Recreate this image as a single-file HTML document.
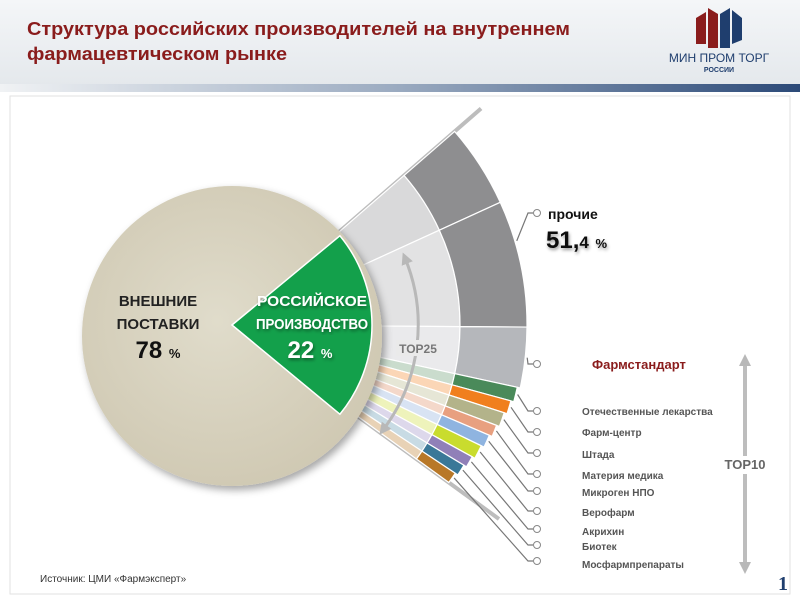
<!DOCTYPE html>
<html><head><meta charset="utf-8">
<style>
html,body{margin:0;padding:0;width:800px;height:600px;overflow:hidden;background:#fff;font-family:"Liberation Sans","DejaVu Sans",sans-serif;}
</style></head>
<body>
<svg id="chart" width="800" height="600" viewBox="0 0 800 600" xmlns="http://www.w3.org/2000/svg">
<defs>
<linearGradient id="hdr" x1="0" y1="0" x2="0" y2="1"><stop offset="0" stop-color="#f4f6f8"/><stop offset="1" stop-color="#e4e8ec"/></linearGradient>
<linearGradient id="bar" x1="0" y1="0" x2="1" y2="0"><stop offset="0" stop-color="#f0f2f4"/><stop offset="0.5" stop-color="#9aaac0"/><stop offset="1" stop-color="#2c4a78"/></linearGradient>
<radialGradient id="beige" cx="0.45" cy="0.45" r="0.6"><stop offset="0" stop-color="#e0dccb"/><stop offset="1" stop-color="#cfc8b2"/></radialGradient>
<filter id="sh" x="-20%" y="-20%" width="140%" height="140%"><feDropShadow dx="3" dy="4" stdDeviation="4" flood-opacity="0.35"/></filter>
<filter id="tsh"><feDropShadow dx="1" dy="2" stdDeviation="1.5" flood-opacity="0.4"/></filter>
<marker id="ah" markerUnits="userSpaceOnUse" markerWidth="12" markerHeight="12" refX="6" refY="6" orient="auto-start-reverse"><path d="M0,0 L12,6 L0,12 Z" fill="#b8b8b8"/></marker>
</defs>
<rect x="0" y="0" width="800" height="86" fill="url(#hdr)"/>
<rect x="0" y="84" width="800" height="8" fill="url(#bar)"/>
<rect x="10" y="96" width="780" height="498" fill="#fff" stroke="#e2e2e2"/>
<text x="27" y="35" font-size="18" font-weight="bold" fill="#8a1c1c" textLength="543" lengthAdjust="spacingAndGlyphs">Структура российских производителей на внутреннем</text>
<text x="27" y="60" font-size="18" font-weight="bold" fill="#8a1c1c" textLength="260" lengthAdjust="spacingAndGlyphs">фармацевтическом рынке</text>
<g>
<polygon points="696,18 706,12 706,44 696,44" fill="#8a1c1c"/>
<polygon points="708,8 718,14 718,48 708,48" fill="#8a1c1c"/>
<polygon points="720,14 730,8 730,48 720,48" fill="#1f3e6e"/>
<polygon points="732,10 742,18 742,40 732,44" fill="#1f3e6e"/>
<text x="719" y="62" font-size="12" text-anchor="middle" fill="#1f3e6e">МИН ПРОМ ТОРГ</text>
<text x="719" y="72" font-size="7" font-weight="bold" text-anchor="middle" fill="#1f3e6e">РОССИИ</text>
</g>
<g id="fan"></g>
<circle cx="232" cy="336" r="150" fill="url(#beige)" filter="url(#sh)"/>
<g id="pie"></g>
<text x="158" y="306" font-size="15" font-weight="bold" text-anchor="middle" fill="#222">ВНЕШНИЕ</text>
<text x="158" y="329" font-size="15" font-weight="bold" text-anchor="middle" fill="#222">ПОСТАВКИ</text>
<text x="158" y="358" font-size="24" font-weight="bold" text-anchor="middle" fill="#111">78 <tspan font-size="13">%</tspan></text>
<text x="312" y="306" font-size="15" font-weight="bold" text-anchor="middle" fill="#fff" filter="url(#tsh)" textLength="110" lengthAdjust="spacingAndGlyphs">РОССИЙСКОЕ</text>
<text x="312" y="329" font-size="15" font-weight="bold" text-anchor="middle" fill="#fff" filter="url(#tsh)" textLength="112" lengthAdjust="spacingAndGlyphs">ПРОИЗВОДСТВО</text>
<text x="310" y="358" font-size="24" font-weight="bold" text-anchor="middle" fill="#fff" filter="url(#tsh)">22 <tspan font-size="13">%</tspan></text>
<path d="M405,258 A175,175 0 0 1 383,430" fill="none" stroke="#b8b8b8" stroke-width="3" marker-start="url(#ah)" marker-end="url(#ah)"/>
<rect x="396" y="340" width="44" height="16" fill="#eaeaea"/>
<text x="418" y="353" font-size="12" font-weight="bold" text-anchor="middle" fill="#777">TOP25</text>
<g id="leaders"></g>
<text x="548" y="219" font-size="14" font-weight="bold" fill="#111">прочие</text>
<text x="546" y="248" font-size="24" font-weight="bold" fill="#111" filter="url(#tsh)">51,<tspan font-size="17">4</tspan> <tspan font-size="13">%</tspan></text>
<line x1="745" y1="360" x2="745" y2="568" stroke="#bdbdbd" stroke-width="4" marker-start="url(#ah)" marker-end="url(#ah)"/>
<rect x="722" y="456" width="46" height="18" fill="#fff"/>
<text x="745" y="469" font-size="13" font-weight="bold" text-anchor="middle" fill="#666">TOP10</text>
<text x="40" y="582" font-size="10" fill="#333">Источник: ЦМИ «Фармэксперт»</text>
<text x="778" y="590" font-size="20" font-weight="bold" fill="#1f3e6e" font-family="Liberation Serif, serif">1</text>
</svg>
<script>
const pieShares = [78, 22];
const segNames = ["прочие-1","прочие-2","Фармстандарт","Отечественные лекарства","Фарм-центр","Штада","Материя медика","Микроген НПО","Верофарм","Акрихин","Биотек","Мосфармпрепараты"];
const segValues = [20.4, 31.0, 14.8, 3.6, 3.3, 3.6, 3.0, 3.3, 3.6, 3.0, 3.0, 3.0];
const labelNames = ["Фармстандарт","Отечественные лекарства","Фарм-центр","Штада","Материя медика","Микроген НПО","Верофарм","Акрихин","Биотек","Мосфармпрепараты"];
const outerColors = ['#8e8e90','#8e8e90','#b5b7bb','#4a8a5a','#f07f1e','#b3b38a','#e8a080','#8fb4e0','#c9dc2e','#9080b8','#3a7898','#b87828'];
const innerColors = ['#d9d9da','#e2e2e3','#eaeaec','#cadccd','#fbd6b6','#e6e6d6','#f4d8ca','#d8e3f3','#eef3bb','#ddd8eb','#c8dbe4','#e8d2b6'];
const labelY = [364,411,432,453,474,491,511,529,545,561];
const textY = [369,415,436,458,479,496,516,535,550,568];

const NS="http://www.w3.org/2000/svg";
const CX=232, CY=325, R0=140, R1=228, R2=295;
const A0=-41, A1=36;
function rad(d){return d*Math.PI/180;}
function pt(r,a){return [CX+r*Math.cos(rad(a)), CY+r*Math.sin(rad(a))];}
function arcPath(r0,r1,a0,a1){
  const p1=pt(r1,a0),p2=pt(r1,a1),p3=pt(r0,a1),p4=pt(r0,a0);
  const lg=(a1-a0)>180?1:0;
  return `M${p1[0]},${p1[1]} A${r1},${r1} 0 ${lg} 1 ${p2[0]},${p2[1]} L${p3[0]},${p3[1]} A${r0},${r0} 0 ${lg} 0 ${p4[0]},${p4[1]} Z`;
}
const fan=document.getElementById('fan');
const total=segValues.reduce((a,b)=>a+b,0);
function angleOf(v){return A0+(v/total)*(A1-A0);}
[A0,A1].forEach((a,i)=>{
  const p=pt(R0,a),q=pt(R2+35,a);
  const l=document.createElementNS(NS,'line');
  l.setAttribute('x1',p[0]);l.setAttribute('y1',p[1]);l.setAttribute('x2',q[0]);l.setAttribute('y2',q[1]);
  l.setAttribute('stroke','#bdbdbd');l.setAttribute('stroke-width','4');
  
  
  fan.appendChild(l);
});
let cum=0; const mids=[];
segValues.forEach((v,i)=>{
  const a0=angleOf(cum), a1=angleOf(cum+v); cum+=v;
  mids.push([(a0+a1)/2,a0,a1]);
  const inner=document.createElementNS(NS,'path');
  inner.setAttribute('d',arcPath(R0-2,R1,a0,a1));
  inner.setAttribute('fill',innerColors[i]);inner.setAttribute('stroke','#fff');inner.setAttribute('stroke-width','1.2');
  
  
  fan.appendChild(inner);
  const outer=document.createElementNS(NS,'path');
  outer.setAttribute('d',arcPath(R1,R2-(i>2?(i-2)*3:0),a0,a1));
  outer.setAttribute('fill',outerColors[i]);outer.setAttribute('stroke','#fff');outer.setAttribute('stroke-width','1.2');
  
  
  fan.appendChild(outer);
});
const pie=document.getElementById('pie');
const half=pieShares[1]/100*360/2;
const g0=pt(R0,-half),g1=pt(R0,half);
const wedge=document.createElementNS(NS,'path');
wedge.setAttribute('d',`M${CX},${CY} L${g0[0]},${g0[1]} A${R0},${R0} 0 0 1 ${g1[0]},${g1[1]} Z`);
wedge.setAttribute('fill','#13a04b');wedge.setAttribute('stroke','#fff');wedge.setAttribute('stroke-width','1.5');


pie.appendChild(wedge);
const leaders=document.getElementById('leaders');
function leader(fromR,ang,y,nm){
  const p=pt(fromR,ang);
  const l=document.createElementNS(NS,'polyline');
  l.setAttribute('points',`${p[0]+2},${p[1]} 528,${y} 533,${y}`);
  l.setAttribute('fill','none');l.setAttribute('stroke','#777');l.setAttribute('stroke-width','1.2');
  
  
  leaders.appendChild(l);
  const c=document.createElementNS(NS,'circle');
  c.setAttribute('cx',537);c.setAttribute('cy',y);c.setAttribute('r',3.5);
  c.setAttribute('fill','#fff');c.setAttribute('stroke','#888');
  
  
  leaders.appendChild(c);
}
leader(R2,mids[1][1]+8,213,'others');
for(let k=0;k<labelNames.length;k++){
  const i=k+2;
  const r=R2-(i>2?(i-2)*3:0);
  leader(r,mids[i][0],labelY[k],'company-'+k);
  const t=document.createElementNS(NS,'text');
  t.setAttribute('x', k===0?592:582); t.setAttribute('y',textY[k]);
  t.setAttribute('font-size', k===0?'13':'10');
  t.setAttribute('font-weight','bold');
  t.setAttribute('fill', k===0?'#8a1c1c':'#555');
  t.textContent=labelNames[k];
  
  
  leaders.appendChild(t);
}
</script>
</body></html>
